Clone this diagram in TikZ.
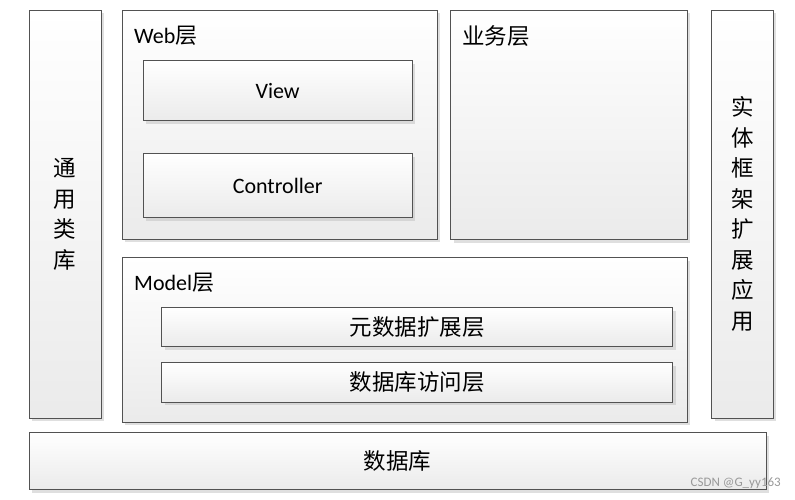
\documentclass[tikz,border=0pt]{standalone}
\usepackage{fontspec}
\setmainfont{Carlito}
\newfontfamily\cjk{Noto Sans CJK SC}
\usetikzlibrary{shadows}
\usetikzlibrary{positioning}

\begin{document}
\begin{tikzpicture}[x=1pt,y=-1pt,
  layer/.style={draw=black!68, line width=1.3pt, top color=white, bottom color=black!8,
    drop shadow={shadow xshift=3pt,shadow yshift=-3pt,fill=black!25,opacity=.5},
    anchor=north west, inner sep=0pt, align=center, font=\fontsize{22}{26}\selectfont},
  zh/.style={font=\cjk\fontsize{22.5}{30.5}\selectfont},
  tag/.style={anchor=west, inner sep=0pt, font=\fontsize{22}{26}\selectfont}]
 \useasboundingbox (0,0) rectangle (795,499);
 % side columns
 \node[layer, zh, minimum width=72pt, minimum height=408pt] (lib) at (28.5,9.5) {通\\用\\类\\库};
 \node[layer, zh, minimum width=61.5pt, minimum height=408pt] (ef) at (711,9.5) {实\\体\\框\\架\\扩\\展\\应\\用};
 % web layer
 \node[layer, minimum width=315pt, minimum height=229pt] (web) at (121.5,9.5) {};
 \node[tag] (weblbl) at ([shift={(12.5,26.5)}]web.north west) {Web{\cjk 层}};
 \node[layer, minimum width=269pt, minimum height=60pt] (view) at (142.5,60) {View};
 \node[layer, minimum width=269pt, minimum height=64pt] (ctrl) at (142.5,153) {Controller};
 % business layer
 \node[layer, minimum width=236.5pt, minimum height=229.5pt] (biz) at (450,9.5) {};
 \node[tag, zh] (bizlbl) at ([shift={(12,26.5)}]biz.north west) {业务层};
 % model layer
 \node[layer, minimum width=565pt, minimum height=164.5pt] (model) at (121.5,257) {};
 \node[tag] (modellbl) at ([shift={(12.5,26)}]model.north west) {Model{\cjk 层}};
 \node[layer, zh, minimum width=511pt, minimum height=39pt] (meta) at (161,307) {元数据扩展层};
 \node[layer, zh, minimum width=511pt, minimum height=39.5pt] (dal) at (161,362) {数据库访问层};
 % database
 \node[layer, zh, minimum width=737pt, minimum height=57pt] (db) at (28.5,432) {数据库};
 \node[anchor=east, inner sep=0pt, text=black!40, font=\fontsize{13}{14}\selectfont] (mark) at (781,483) {CSDN @G\_yy163};
\end{tikzpicture}
\end{document}
